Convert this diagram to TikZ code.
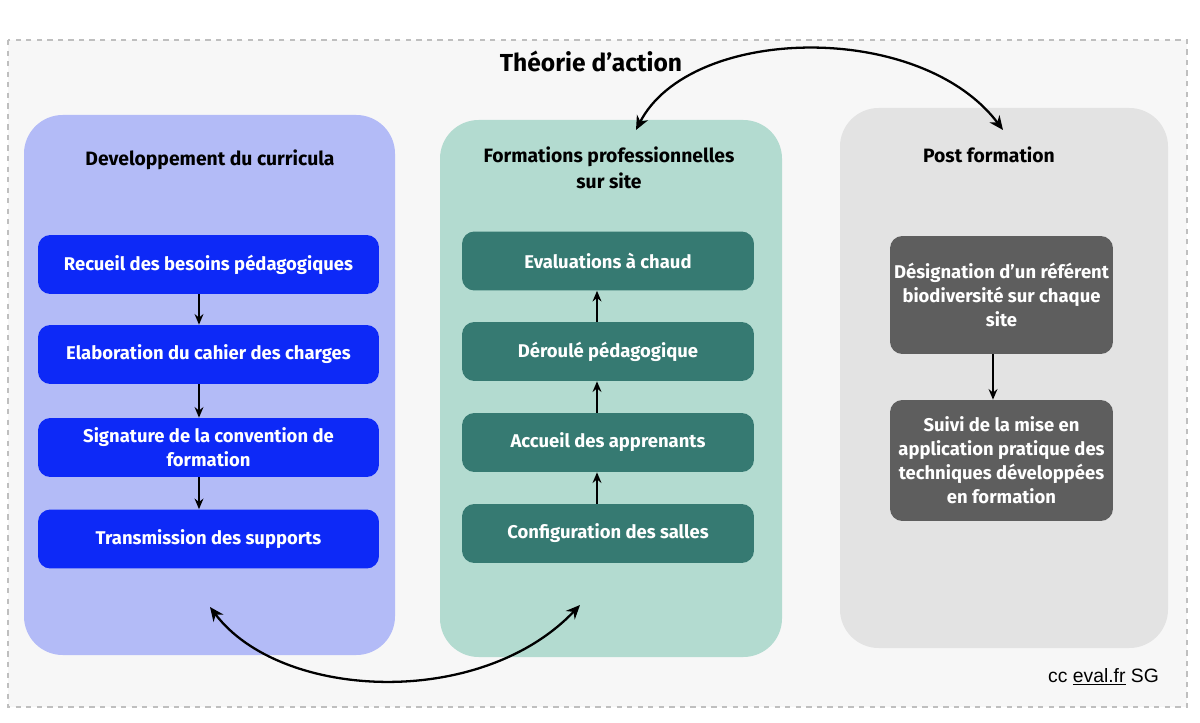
\documentclass[tikz,border=0pt]{standalone}
\usepackage{fontspec}
\setmainfont{Fira Sans}
\newfontfamily\arialf{Liberation Sans}
\usetikzlibrary{arrows.meta}
\definecolor{bgc}{HTML}{F7F7F7}
\definecolor{lav}{HTML}{B3BBF7}
\definecolor{mint}{HTML}{B3DBD0}
\definecolor{lgray}{HTML}{E3E3E3}
\definecolor{blu}{HTML}{0D29F7}
\definecolor{teal2}{HTML}{367A72}
\definecolor{dgray}{HTML}{5E5E5E}
\tikzset{
 box/.style={rounded corners=7pt,text=white,font=\fontsize{10.5}{13.6}\selectfont\bfseries,align=center,inner sep=0pt},
 ptitle/.style={font=\fontsize{11}{15}\selectfont\bfseries,align=center},
 arr/.style={-{Stealth[length=6pt,width=5pt]},line width=1.1pt},
 darr/.style={{Stealth[length=8pt,width=7pt]}-{Stealth[length=8pt,width=7pt]},line width=1.3pt}
}
\begin{document}
\begin{tikzpicture}[x=0.02cm,y=-0.02cm]
\useasboundingbox (0,0) rectangle (1200,723);
\fill[white] (0,0) rectangle (1200,723);
\draw[dashed,draw=black!25,fill=bgc,line width=0.8pt] (8,40) rectangle (1187,707);
\node[font=\fontsize{14}{17}\selectfont\bfseries] (title) at (591,61) {Théorie d’action};
\fill[lav,rounded corners=22pt] (24,115) rectangle (395,655);
\fill[mint,rounded corners=22pt] (440,120) rectangle (782,657);
\fill[lgray,rounded corners=22pt] (840,108) rectangle (1168,648);
\coordinate (pL) at (210,607); \coordinate (pM) at (580,605);
\coordinate (tM) at (636,130); \coordinate (tR) at (1003,130);
\node[ptitle] (t1) at (210,160) {Developpement du curricula};
\node[ptitle] (t2) at (609,168) {Formations professionnelles\\sur site};
\node[ptitle] (t3) at (989,155) {Post formation};
\foreach \n/\y/\t in {a1/264.5/{Recueil des besoins pédagogiques},a2/354.5/{Elaboration du cahier des charges},a3/447.5/{Signature de la convention de\\formation},a4/539/{Transmission des supports}}
 \node[box,fill=blu,minimum width=6.82cm,minimum height=1.18cm] (\n) at (208.5,\y) {\t};
\foreach \n/\y/\t in {b1/261/{Evaluations à chaud},b2/351.5/{Déroulé pédagogique},b3/442.5/{Accueil des apprenants},b4/533.5/{Configuration des salles}}
 \node[box,fill=teal2,minimum width=5.84cm,minimum height=1.18cm] (\n) at (608,\y) {\t};
\node[box,fill=dgray,minimum width=4.46cm,minimum height=2.36cm] (c1) at (1001.5,295) {Désignation d’un référent\\biodiversité sur chaque\\site};
\node[box,fill=dgray,minimum width=4.46cm,minimum height=2.42cm] (c2) at (1001.5,460.5) {Suivi de la mise en\\application pratique des\\techniques développées\\en formation};
\draw[arr] (a1.south -| 199,0) -- (a2.north -| 199,0);
\draw[arr] (a2.south -| 199,0) -- (a3.north -| 199,0);
\draw[arr] (a3.south -| 199,0) -- (a4.north -| 199,0);
\draw[arr] (b4.north -| 597,0) -- (b3.south -| 597,0);
\draw[arr] (b3.north -| 597,0) -- (b2.south -| 597,0);
\draw[arr] (b2.north -| 597,0) -- (b1.south -| 597,0);
\draw[arr] (c1.south -| 993,0) -- (c2.north -| 993,0);
\draw[darr] (tM) .. controls (690,25) and (920,20) .. (tR);
\draw[darr] (pL) .. controls (280,700) and (480,710) .. (pM);
\node[anchor=east,font=\arialf\fontsize{11}{13}\selectfont] (cc) at (1165,677) {cc \underline{eval.fr} SG};
\end{tikzpicture}
\end{document}
